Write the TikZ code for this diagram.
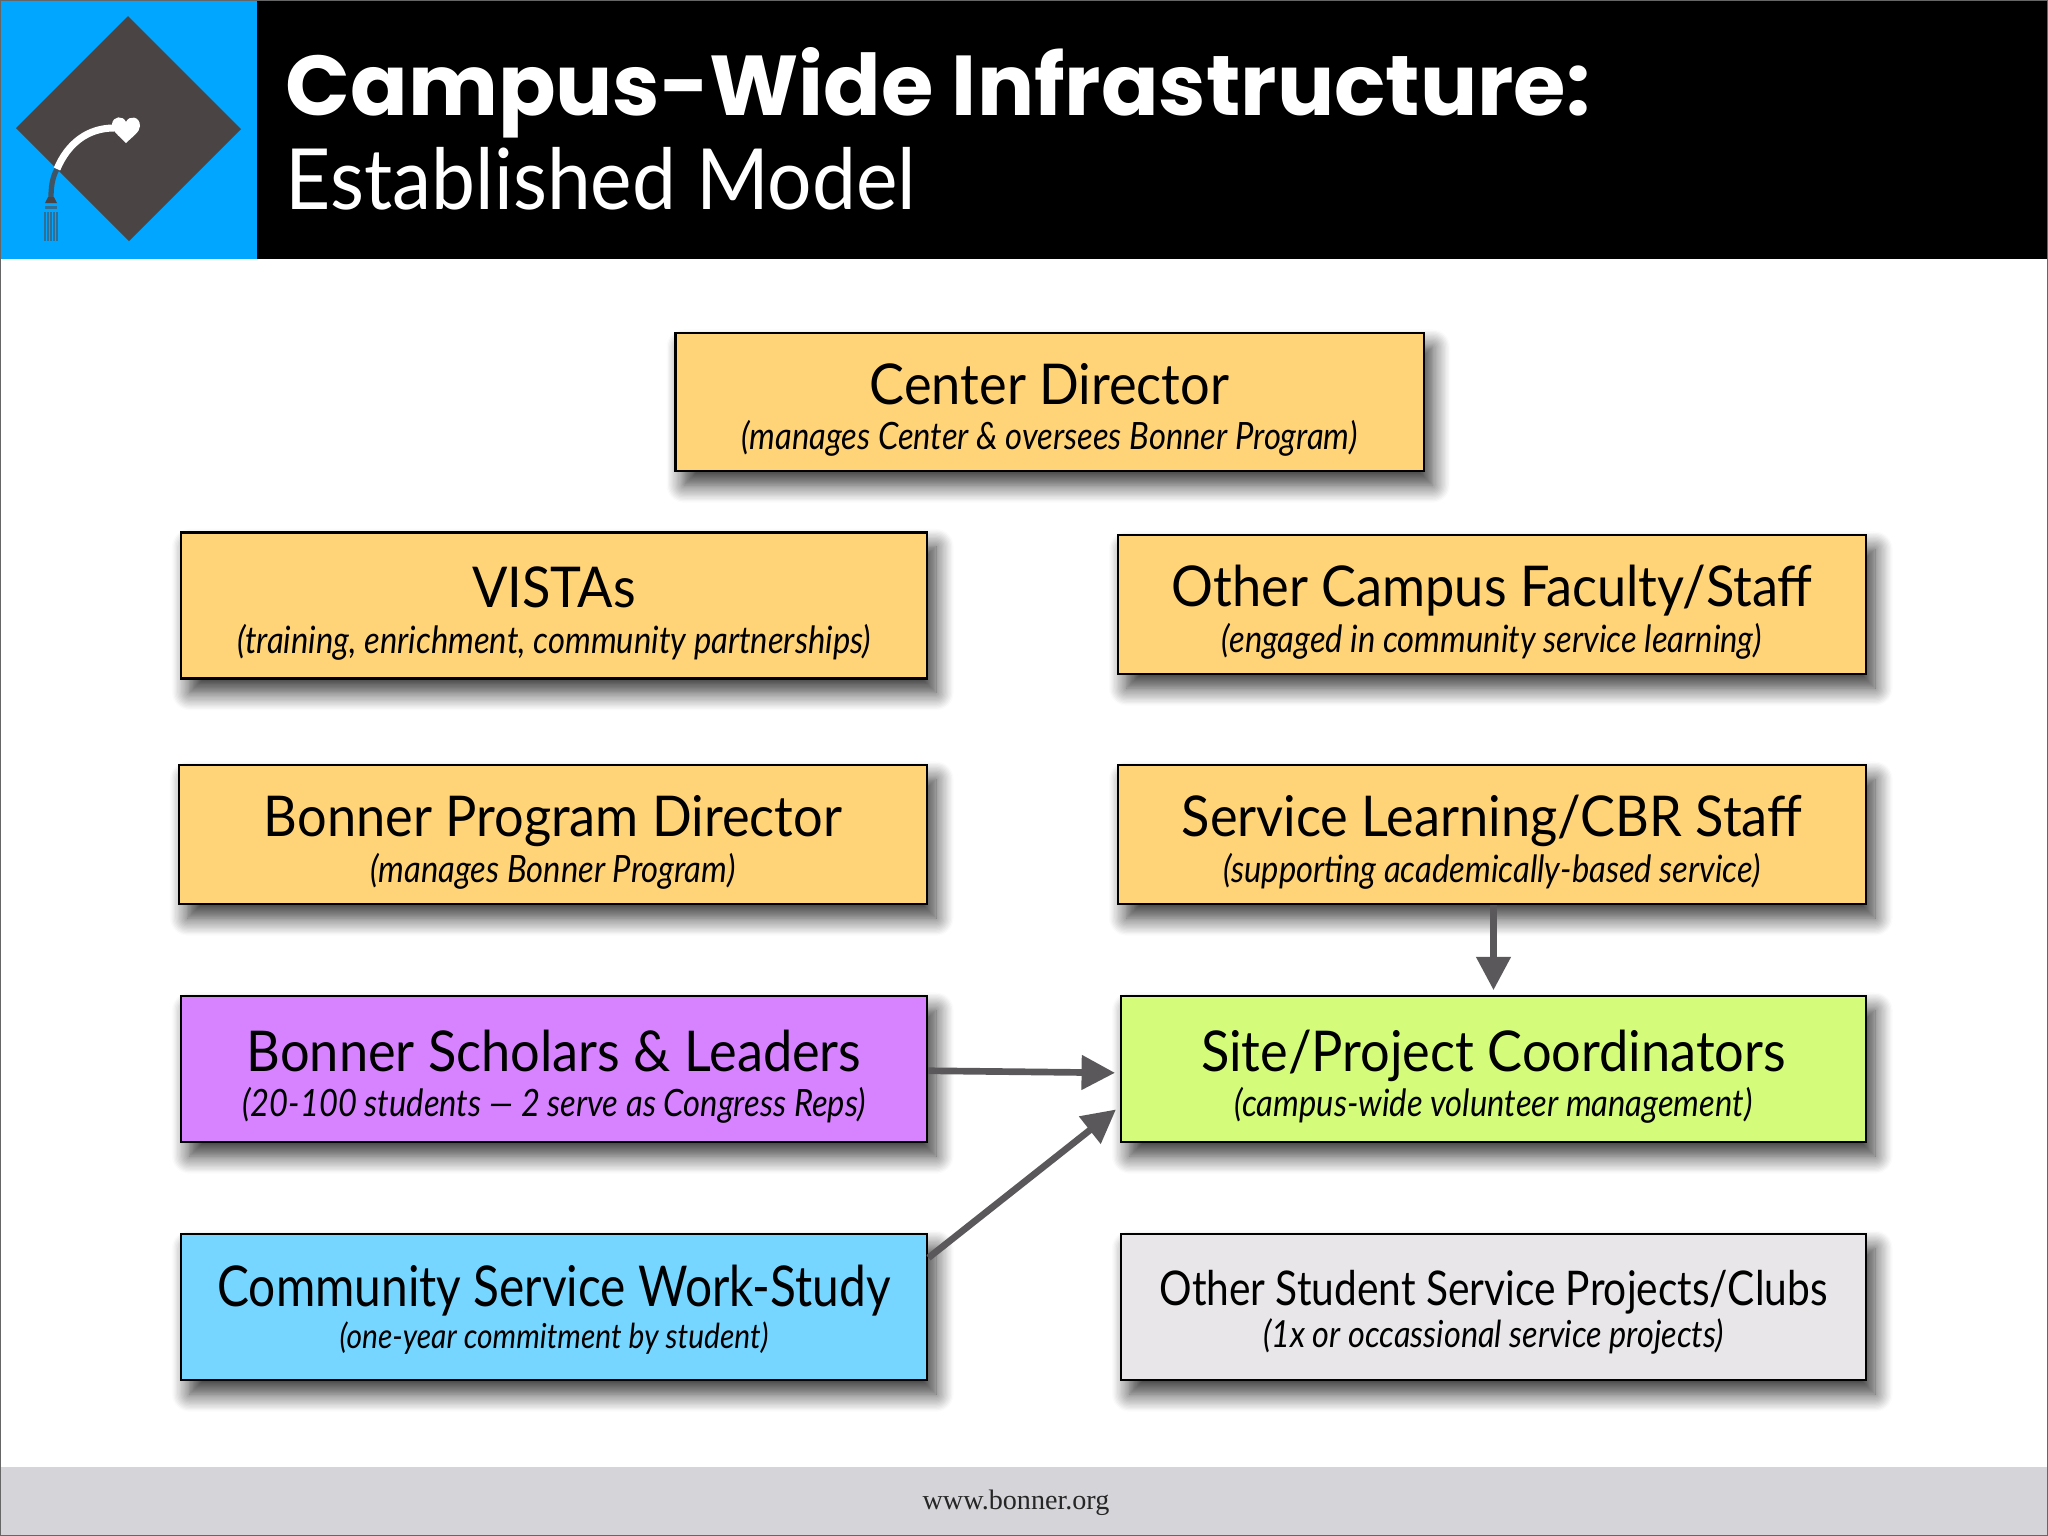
\documentclass[tikz,border=0pt]{standalone}
\usepackage{fontspec}
\setmainfont{Lato}
\newfontfamily\footfont{Liberation Serif}
\newfontfamily\headfont{Poppins}
\newfontfamily\titlefont[FakeStretch=0.93]{Lato}
\newfontfamily\narrowfont[FakeStretch=0.85]{Lato}
\newfontfamily\subfont[FakeStretch=0.87]{Lato}
\usetikzlibrary{shadows.blur,arrows.meta}
\definecolor{melon}{HTML}{FFD479}
\definecolor{lavender}{HTML}{D783FF}
\definecolor{honeydew}{HTML}{D4FB79}
\definecolor{skyblue}{HTML}{76D6FF}
\definecolor{paleGray}{HTML}{E8E6E9}
\definecolor{headerBlue}{HTML}{00A6FF}
\definecolor{capGray}{HTML}{4A4444}
\definecolor{arrowGray}{HTML}{5A585A}
\definecolor{footerGray}{HTML}{D5D4D8}
\definecolor{tasselBlue}{HTML}{2F6F96}
\newcommand{\boxtext}[2]{\rule{0pt}{16.2pt}{\titlefont\fontsize{16}{19}\selectfont #1}\\[0.9pt]{\subfont\fontsize{10.7}{13}\selectfont\itshape #2}}
\newcommand{\boxnarrowtext}[2]{\rule{0pt}{13.5pt}{\narrowfont\fontsize{16}{19}\selectfont #1}\\[0pt]{\subfont\fontsize{9.8}{13}\selectfont\itshape #2}}
\newcommand{\boxsmalltext}[2]{\rule{0pt}{13pt}{\narrowfont\fontsize{13.6}{17}\selectfont #1}\\[0pt]{\subfont\fontsize{10.6}{13}\selectfont\itshape #2}}

\begin{document}
\begin{tikzpicture}[x=0.01cm,y=-0.01cm]
    \tikzstyle{every node} = [inner sep=0pt]
    \tikzstyle{block} = [draw=black, rectangle, line width=0.7pt, align=center, minimum width=7.47cm, minimum height=1.46cm, blur shadow={shadow xshift=2.5pt, shadow yshift=-4pt, shadow blur radius=5pt, shadow opacity=80, shadow blur steps=14}]
    \tikzstyle{link} = [-{Triangle[length=9.5pt,width=9.5pt]}, line width=1.9pt, draw=arrowGray, fill=arrowGray, shorten >=1.3pt]
    \useasboundingbox (0,0) rectangle (2048,1536);

    % header and footer
    \fill[black] (0,0) rectangle (2048,259);
    \fill[headerBlue] (0,0) rectangle (257,259);
    \fill[footerGray] (0,1467) rectangle (2048,1536);
    \draw[gray!80!black, line width=0.6pt] (0,0) rectangle (2048,1536);

    % cap
    \fill[capGray] (128,16) -- (241,129) -- (129,241) -- (16,128) -- cycle;
    \draw[tasselBlue!40!capGray, line width=1.5pt] (57,169) .. controls (52,178) and (51,188) .. (51,198);
    \draw[white, line width=2pt] (57,169) .. controls (68,143) and (88,128) .. (114,128);
    \fill[white] (126,143) .. controls (118,135) and (111,130) .. (112,124) .. controls (113,116) and (123,115) .. (126,122) .. controls (129,115) and (140,116) .. (140,126) .. controls (140,132) and (132,137) .. (126,143) -- cycle;
    \fill[capGray] (48,197) -- (54,197) -- (57,203) -- (45,203) -- cycle;
    \fill[tasselBlue] (45,206) rectangle (57,209);
    \foreach \xpos in {45,48,51,54,57}
      \draw[tasselBlue, line width=0.5pt] (\xpos,212) -- (\xpos,241);

    % titles
    \node[anchor=base west, text=white, font=\headfont\fontsize{24.15}{30}\selectfont\bfseries] (titleMain) at (285,115) {Campus-Wide Infrastructure:};
    \node[anchor=base west, text=white, font=\titlefont\fontsize{24}{30}\selectfont] (titleSub) at (285,209) {Established Model};
    \node[font=\footfont\fontsize{8}{10}\selectfont, text=black!85] (footerUrl) at (1016,1503) {www.bonner.org};

    % place nodes
    \node[block, fill=melon, minimum width=7.48cm, minimum height=1.38cm] (centerDirector) at (1049.5,402) {\boxtext{Center Director}{(manages Center \& oversees Bonner Program)}};
    \node[block, fill=melon, minimum width=7.46cm] (vistas) at (554,605.5) {\boxtext{VISTAs}{(training, enrichment, community partnerships)}};
    \node[block, fill=melon, minimum width=7.48cm, minimum height=1.39cm] (otherCampus) at (1492,604.5) {\boxtext{Other Campus Faculty/Staff}{(engaged in community service learning)}};
    \node[block, fill=melon, minimum width=7.48cm, minimum height=1.39cm] (programDirector) at (553,834.5) {\boxtext{Bonner Program Director}{(manages Bonner Program)}};
    \node[block, fill=melon, minimum width=7.48cm, minimum height=1.39cm] (serviceLearning) at (1492,834.5) {\boxtext{Service Learning/CBR Staff}{(supporting academically-based service)}};
    \node[block, fill=lavender, minimum width=7.46cm] (scholarsLeaders) at (554,1069) {\boxtext{Bonner Scholars \& Leaders}{(20-100 students — 2 serve as Congress Reps)}};
    \node[block, fill=honeydew, minimum width=7.45cm] (siteCoordinators) at (1493.5,1069) {\boxtext{Site/Project Coordinators}{(campus-wide volunteer management)}};
    \node[block, fill=skyblue, minimum width=7.46cm] (workStudy) at (554,1307) {\boxnarrowtext{Community Service Work-Study}{(one-year commitment by student)}};
    \node[block, fill=paleGray, minimum width=7.45cm] (otherProjects) at (1493.5,1307) {\boxsmalltext{Other Student Service Projects/Clubs}{(1x or occassional service projects)}};

    % Connections
    \draw[link] (serviceLearning.south -| siteCoordinators.north) -- (siteCoordinators.north);
    \draw[link] ([yshift=-0.5pt]scholarsLeaders.east) -- ([yshift=-1.1pt]siteCoordinators.west);
    \draw[link] ([yshift=14pt]workStudy.east) -- ([yshift=-10.7pt]siteCoordinators.west);
\end{tikzpicture}
\end{document}
